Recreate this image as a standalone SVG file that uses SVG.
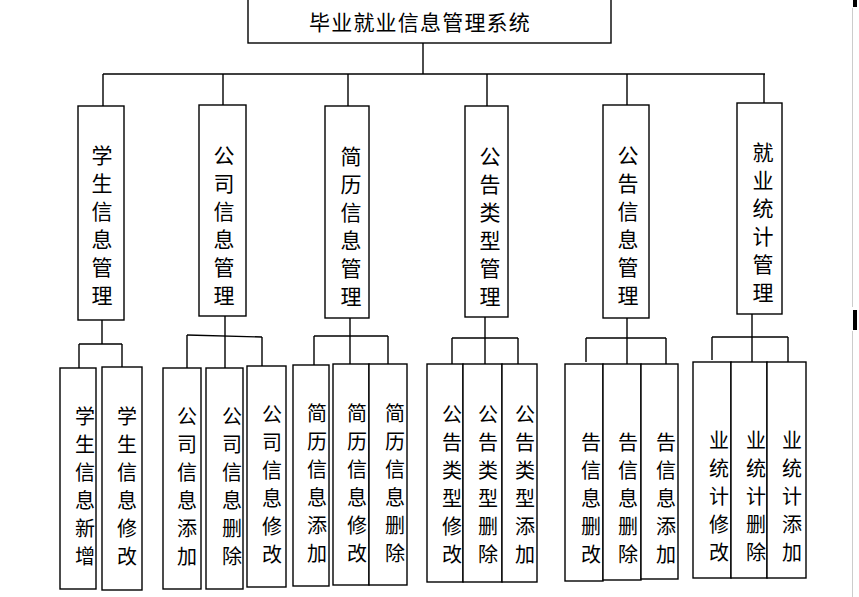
<svg xmlns="http://www.w3.org/2000/svg" width="859" height="597" viewBox="0 0 859 597">
<style>
rect.b{fill:#fff;stroke:#000;stroke-width:1.4}
#conn line{stroke:#000;stroke-width:1.4}
text{font-family:"Noto Sans CJK SC","Noto Sans",sans-serif;fill:#000;text-anchor:middle}
.t1{font-size:21px}
.t2{font-size:20px}
.tt{font-size:21px;letter-spacing:1.2px}
</style>
<rect x="0" y="0" width="859" height="597" fill="#fff"/>
<g id="conn">
<line x1="423" y1="43" x2="423" y2="74"/>
<line x1="103" y1="74" x2="765" y2="74"/>
<line x1="103" y1="74" x2="103" y2="106"/>
<line x1="223" y1="74" x2="223" y2="105"/>
<line x1="348" y1="74" x2="348" y2="106"/>
<line x1="487" y1="74" x2="487" y2="106"/>
<line x1="627" y1="74" x2="627" y2="105"/>
<line x1="764" y1="74" x2="764" y2="103"/>
<line x1="102" y1="320" x2="102" y2="344"/>
<line x1="79" y1="344" x2="122" y2="344"/>
<line x1="79" y1="344" x2="79" y2="368"/>
<line x1="122" y1="344" x2="122" y2="367"/>
<line x1="225" y1="316" x2="225" y2="368"/>
<line x1="187" y1="335" x2="262" y2="337"/>
<line x1="187" y1="335" x2="187" y2="368"/>
<line x1="262" y1="337" x2="262" y2="366"/>
<line x1="350" y1="318" x2="350" y2="364"/>
<line x1="314" y1="336" x2="388" y2="336"/>
<line x1="314" y1="336" x2="314" y2="365"/>
<line x1="388" y1="336" x2="388" y2="364"/>
<line x1="485" y1="317" x2="485" y2="364"/>
<line x1="452" y1="338" x2="518" y2="338"/>
<line x1="452" y1="338" x2="452" y2="364"/>
<line x1="518" y1="338" x2="518" y2="364"/>
<line x1="627" y1="318" x2="627" y2="364"/>
<line x1="586" y1="338" x2="666" y2="338"/>
<line x1="586" y1="338" x2="586" y2="362"/>
<line x1="666" y1="338" x2="666" y2="364"/>
<line x1="752" y1="314" x2="752" y2="362"/>
<line x1="712" y1="337" x2="788" y2="337"/>
<line x1="712" y1="337" x2="712" y2="360"/>
<line x1="788" y1="337" x2="788" y2="362"/>
</g>
<g id="root"><rect class="b" x="248" y="-3" width="363" height="46"/><text class="tt" x="420" y="30">毕业就业信息管理系统</text></g>
<g id="n1"><rect class="b" x="78" y="106" width="46" height="214"/><text class="t1" y="163"><tspan x="102">学</tspan><tspan x="102" dy="28">生</tspan><tspan x="102" dy="28">信</tspan><tspan x="102" dy="28">息</tspan><tspan x="102" dy="28">管</tspan><tspan x="102" dy="28">理</tspan></text></g>
<g id="n2"><rect class="b" x="199" y="105" width="47" height="211"/><text class="t1" y="163"><tspan x="224">公</tspan><tspan x="224" dy="28">司</tspan><tspan x="224" dy="28">信</tspan><tspan x="224" dy="28">息</tspan><tspan x="224" dy="28">管</tspan><tspan x="224" dy="28">理</tspan></text></g>
<g id="n3"><rect class="b" x="325" y="106" width="44" height="212"/><text class="t1" y="164"><tspan x="351">简</tspan><tspan x="351" dy="28">历</tspan><tspan x="351" dy="28">信</tspan><tspan x="351" dy="28">息</tspan><tspan x="351" dy="28">管</tspan><tspan x="351" dy="28">理</tspan></text></g>
<g id="n4"><rect class="b" x="465" y="106" width="43" height="211"/><text class="t1" y="164"><tspan x="490">公</tspan><tspan x="490" dy="28">告</tspan><tspan x="490" dy="28">类</tspan><tspan x="490" dy="28">型</tspan><tspan x="490" dy="28">管</tspan><tspan x="490" dy="28">理</tspan></text></g>
<g id="n5"><rect class="b" x="603" y="105" width="46" height="213"/><text class="t1" y="163"><tspan x="628">公</tspan><tspan x="628" dy="28">告</tspan><tspan x="628" dy="28">信</tspan><tspan x="628" dy="28">息</tspan><tspan x="628" dy="28">管</tspan><tspan x="628" dy="28">理</tspan></text></g>
<g id="n6"><rect class="b" x="737" y="103" width="45" height="211"/><text class="t1" y="160"><tspan x="763">就</tspan><tspan x="763" dy="28">业</tspan><tspan x="763" dy="28">统</tspan><tspan x="763" dy="28">计</tspan><tspan x="763" dy="28">管</tspan><tspan x="763" dy="28">理</tspan></text></g>
<g id="a"><rect class="b" x="60" y="368" width="36" height="221"/><text class="t2" y="424"><tspan x="85">学</tspan><tspan x="85" dy="28">生</tspan><tspan x="85" dy="28">信</tspan><tspan x="85" dy="28">息</tspan><tspan x="85" dy="28">新</tspan><tspan x="85" dy="28">增</tspan></text></g>
<g id="b"><rect class="b" x="102" y="367" width="40" height="223"/><text class="t2" y="424"><tspan x="127">学</tspan><tspan x="127" dy="28">生</tspan><tspan x="127" dy="28">信</tspan><tspan x="127" dy="28">息</tspan><tspan x="127" dy="28">修</tspan><tspan x="127" dy="28">改</tspan></text></g>
<g id="c"><rect class="b" x="163" y="368" width="38" height="221"/><text class="t2" y="424"><tspan x="187">公</tspan><tspan x="187" dy="28">司</tspan><tspan x="187" dy="28">信</tspan><tspan x="187" dy="28">息</tspan><tspan x="187" dy="28">添</tspan><tspan x="187" dy="28">加</tspan></text></g>
<g id="d"><rect class="b" x="206" y="368" width="37" height="221"/><text class="t2" y="424"><tspan x="232">公</tspan><tspan x="232" dy="28">司</tspan><tspan x="232" dy="28">信</tspan><tspan x="232" dy="28">息</tspan><tspan x="232" dy="28">删</tspan><tspan x="232" dy="28">除</tspan></text></g>
<g id="e"><rect class="b" x="247" y="366" width="39" height="221"/><text class="t2" y="422"><tspan x="272">公</tspan><tspan x="272" dy="28">司</tspan><tspan x="272" dy="28">信</tspan><tspan x="272" dy="28">息</tspan><tspan x="272" dy="28">修</tspan><tspan x="272" dy="28">改</tspan></text></g>
<g id="f"><rect class="b" x="293" y="365" width="36" height="221"/><text class="t2" y="421"><tspan x="317">简</tspan><tspan x="317" dy="28">历</tspan><tspan x="317" dy="28">信</tspan><tspan x="317" dy="28">息</tspan><tspan x="317" dy="28">添</tspan><tspan x="317" dy="28">加</tspan></text></g>
<g id="g"><rect class="b" x="333" y="364" width="36" height="221"/><text class="t2" y="421"><tspan x="357">简</tspan><tspan x="357" dy="28">历</tspan><tspan x="357" dy="28">信</tspan><tspan x="357" dy="28">息</tspan><tspan x="357" dy="28">修</tspan><tspan x="357" dy="28">改</tspan></text></g>
<g id="h"><rect class="b" x="369" y="364" width="38" height="221"/><text class="t2" y="421"><tspan x="395">简</tspan><tspan x="395" dy="28">历</tspan><tspan x="395" dy="28">信</tspan><tspan x="395" dy="28">息</tspan><tspan x="395" dy="28">删</tspan><tspan x="395" dy="28">除</tspan></text></g>
<g id="i"><rect class="b" x="427" y="364" width="36" height="218"/><text class="t2" y="422"><tspan x="452">公</tspan><tspan x="452" dy="28">告</tspan><tspan x="452" dy="28">类</tspan><tspan x="452" dy="28">型</tspan><tspan x="452" dy="28">修</tspan><tspan x="452" dy="28">改</tspan></text></g>
<g id="j"><rect class="b" x="463" y="364" width="39" height="218"/><text class="t2" y="422"><tspan x="488">公</tspan><tspan x="488" dy="28">告</tspan><tspan x="488" dy="28">类</tspan><tspan x="488" dy="28">型</tspan><tspan x="488" dy="28">删</tspan><tspan x="488" dy="28">除</tspan></text></g>
<g id="k"><rect class="b" x="502" y="364" width="35" height="218"/><text class="t2" y="422"><tspan x="525">公</tspan><tspan x="525" dy="28">告</tspan><tspan x="525" dy="28">类</tspan><tspan x="525" dy="28">型</tspan><tspan x="525" dy="28">添</tspan><tspan x="525" dy="28">加</tspan></text></g>
<g id="l"><rect class="b" x="565" y="364" width="38" height="217"/><text class="t2" y="450"><tspan x="591">告</tspan><tspan x="591" dy="28">信</tspan><tspan x="591" dy="28">息</tspan><tspan x="591" dy="28">删</tspan><tspan x="591" dy="28">改</tspan></text></g>
<g id="m"><rect class="b" x="603" y="364" width="38" height="216"/><text class="t2" y="450"><tspan x="628">告</tspan><tspan x="628" dy="28">信</tspan><tspan x="628" dy="28">息</tspan><tspan x="628" dy="28">删</tspan><tspan x="628" dy="28">除</tspan></text></g>
<g id="n"><rect class="b" x="641" y="364" width="37" height="215"/><text class="t2" y="450"><tspan x="666">告</tspan><tspan x="666" dy="28">信</tspan><tspan x="666" dy="28">息</tspan><tspan x="666" dy="28">添</tspan><tspan x="666" dy="28">加</tspan></text></g>
<g id="o"><rect class="b" x="693" y="362" width="38" height="216"/><text class="t2" y="448"><tspan x="719">业</tspan><tspan x="719" dy="28">统</tspan><tspan x="719" dy="28">计</tspan><tspan x="719" dy="28">修</tspan><tspan x="719" dy="28">改</tspan></text></g>
<g id="p"><rect class="b" x="731" y="362" width="36" height="216"/><text class="t2" y="448"><tspan x="756">业</tspan><tspan x="756" dy="28">统</tspan><tspan x="756" dy="28">计</tspan><tspan x="756" dy="28">删</tspan><tspan x="756" dy="28">除</tspan></text></g>
<g id="q"><rect class="b" x="767" y="362" width="39" height="216"/><text class="t2" y="448"><tspan x="792">业</tspan><tspan x="792" dy="28">统</tspan><tspan x="792" dy="28">计</tspan><tspan x="792" dy="28">添</tspan><tspan x="792" dy="28">加</tspan></text></g>
<g id="edge">
<line x1="852.5" y1="8" x2="852.5" y2="307" stroke="#ccc" stroke-width="1"/>
<line x1="852.5" y1="331" x2="852.5" y2="597" stroke="#ccc" stroke-width="1"/>
<rect x="853" y="0" width="4" height="7" fill="#000"/>
<rect x="853" y="310" width="4" height="20" fill="#000"/>
</g>
</svg>
